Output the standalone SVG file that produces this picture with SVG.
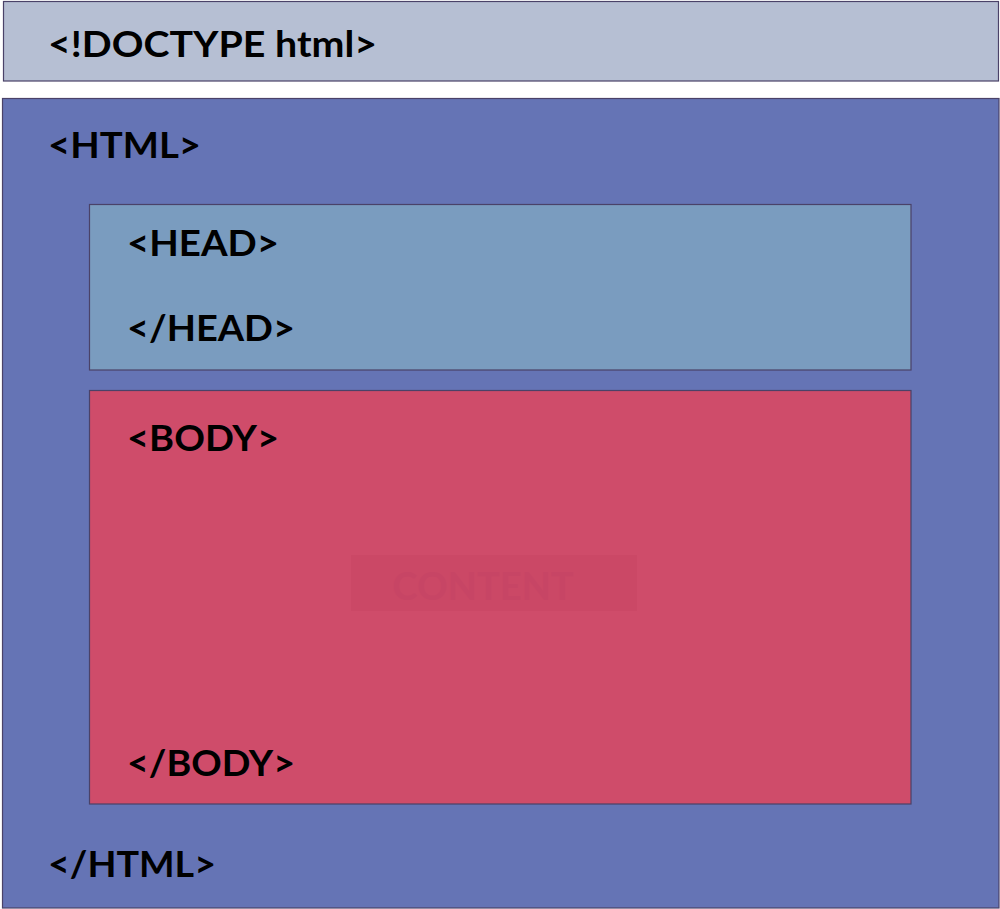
<svg xmlns="http://www.w3.org/2000/svg" width="1000" height="909" viewBox="0 0 1000 909">
<style>
.box{stroke:#4a4268;stroke-width:1.2}
.lbl{font-family:Lato,"Open Sans",sans-serif;font-weight:bold;font-size:36px;fill:#000}
</style>
<rect width="1000" height="909" fill="#fff"/>
<g id="doctype">
<rect class="box" x="3.5" y="1.5" width="995" height="79.5" fill="#b6bfd3"/>
<text class="lbl" x="48" y="57" textLength="329" lengthAdjust="spacingAndGlyphs">&lt;!DOCTYPE html&gt;</text>
</g>
<g id="html">
<rect class="box" x="2.5" y="98.5" width="996.5" height="809.5" fill="#6574b5"/>
<text class="lbl" x="48" y="158" textLength="153" lengthAdjust="spacingAndGlyphs">&lt;HTML&gt;</text>
<text class="lbl" x="48" y="877" textLength="168" lengthAdjust="spacingAndGlyphs">&lt;/HTML&gt;</text>
</g>
<g id="head">
<rect class="box" x="89.5" y="204.5" width="821.5" height="165.5" fill="#7a9cbf"/>
<text class="lbl" x="127" y="256" textLength="152" lengthAdjust="spacingAndGlyphs">&lt;HEAD&gt;</text>
<text class="lbl" x="127" y="341" textLength="168" lengthAdjust="spacingAndGlyphs">&lt;/HEAD&gt;</text>
</g>
<g id="body">
<rect class="box" x="89.5" y="390.5" width="821.5" height="413.5" fill="#cf4c6a"/>
<text class="lbl" x="127" y="451" textLength="152" lengthAdjust="spacingAndGlyphs">&lt;BODY&gt;</text>
<text class="lbl" x="127" y="776" textLength="168" lengthAdjust="spacingAndGlyphs">&lt;/BODY&gt;</text>
</g>
<g id="content">
<rect x="351" y="555" width="286" height="56" fill="#cb4866"/>
<text x="483" y="600" text-anchor="middle" style="font-family:Lato,sans-serif;font-weight:bold;font-size:38px;fill:#c74565">CONTENT</text>
</g>
<g id="connectors"/>
</svg>
